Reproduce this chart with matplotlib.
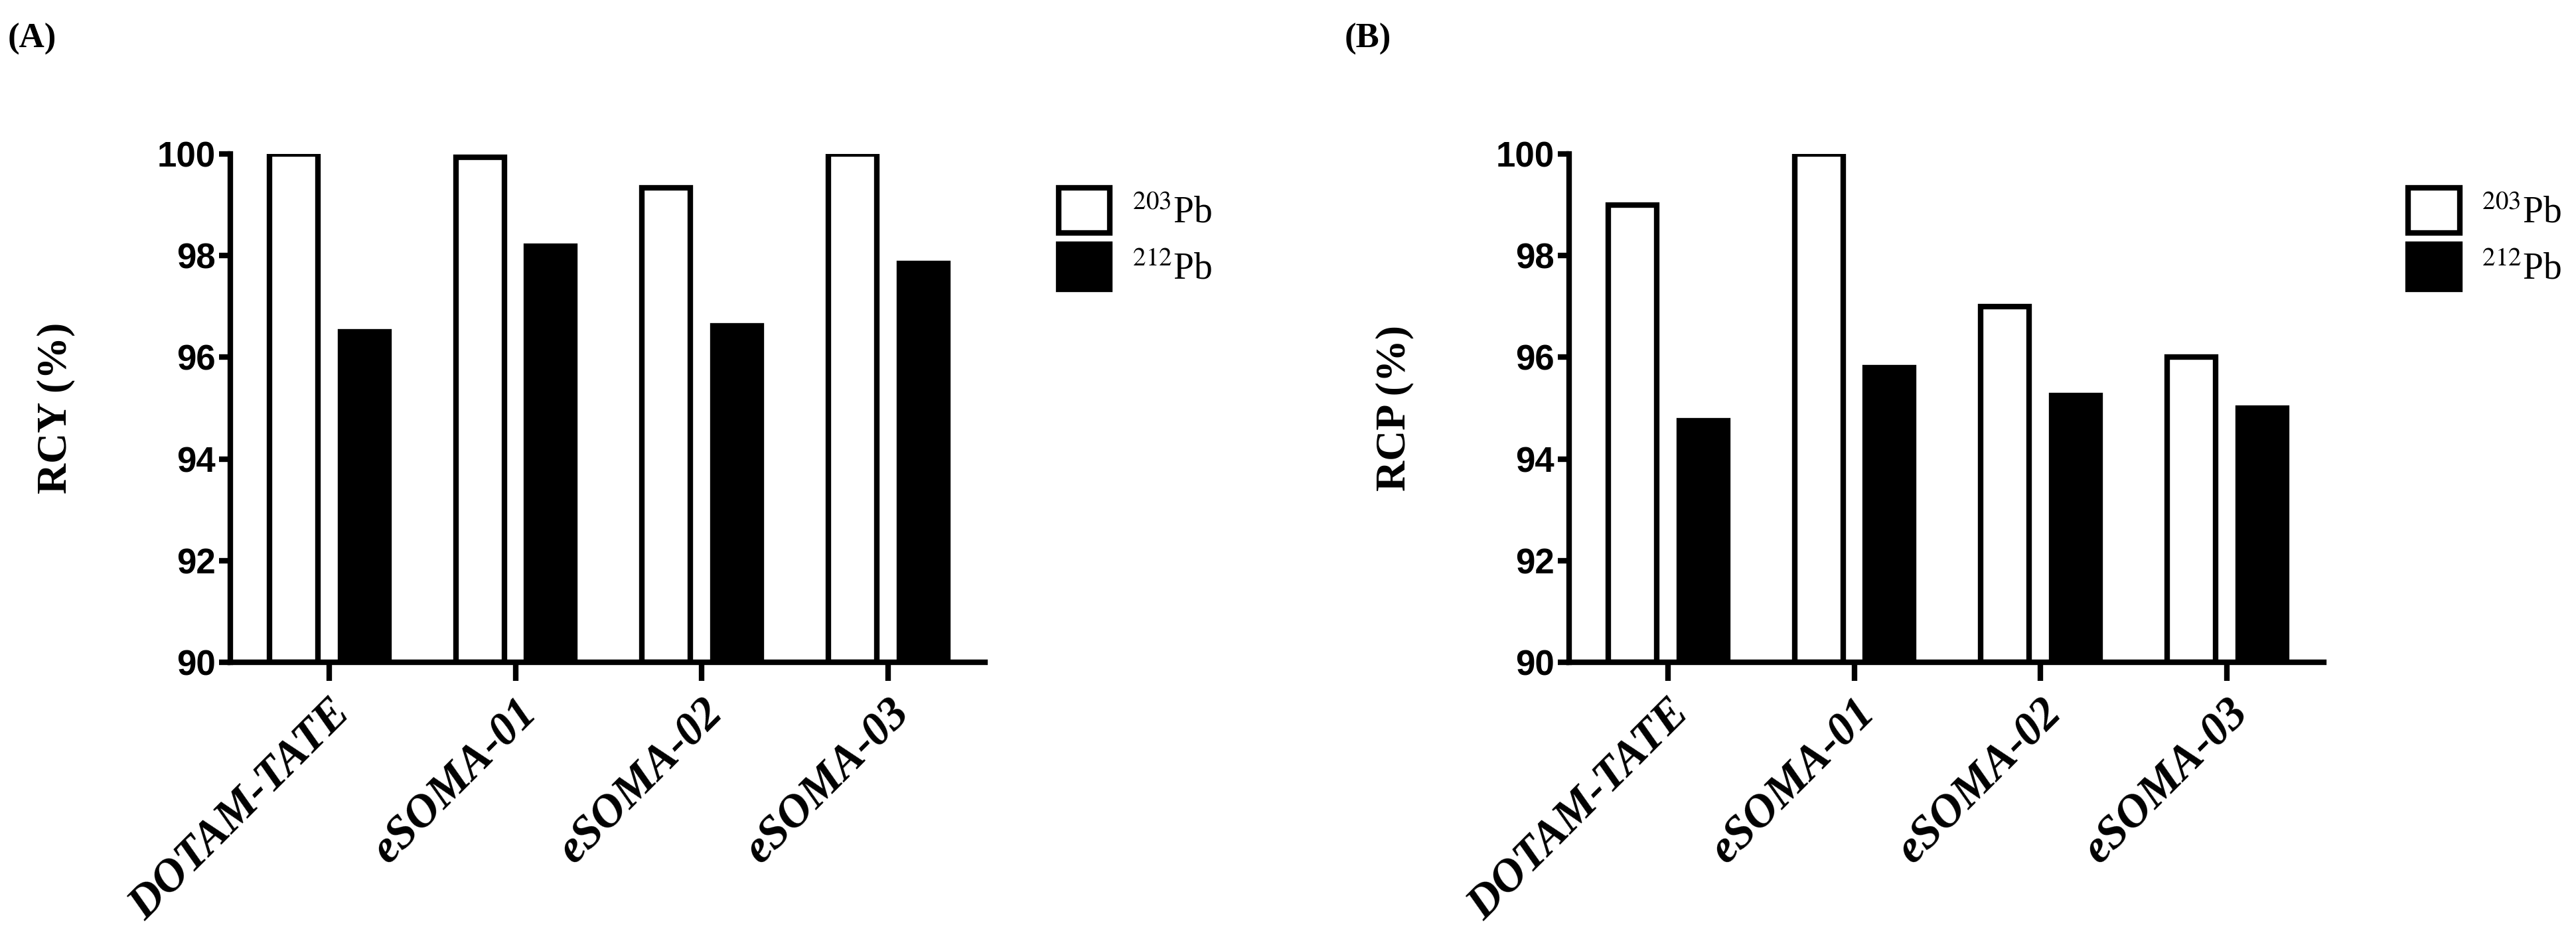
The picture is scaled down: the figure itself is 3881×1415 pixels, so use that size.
import matplotlib
matplotlib.use("Agg")
import matplotlib.pyplot as plt
import numpy as np

categories = ["DOTAM-TATE", "eSOMA-01", "eSOMA-02", "eSOMA-03"]
rcy_203 = [100.0, 99.93, 99.33, 100.0]
rcy_212 = [96.5, 98.18, 96.62, 97.85]
rcp_203 = [99.0, 100.0, 97.0, 96.0]
rcp_212 = [94.75, 95.8, 95.25, 95.0]
yticks = [90, 92, 94, 96, 98, 100]

plt.rcParams["mathtext.fontset"] = "stix"
plt.rcParams["font.serif"] = ["Liberation Serif", "DejaVu Serif"]

fig = plt.figure(figsize=(38.81, 14.15), dpi=100)
serif = ["Liberation Serif", "DejaVu Serif"]
sans = ["Liberation Sans Narrow", "Liberation Sans", "DejaVu Sans"]

def panel(left, v203, v212, ylabel, tag, tagx, legx):
    ax = fig.add_axes([left, 0.2947, 0.293, 0.5413])
    x = np.arange(len(categories))
    w = 0.26
    b1 = ax.bar(x - 0.19, np.array(v203) - 90, w, bottom=90, color="white", edgecolor="black", linewidth=6)
    b2 = ax.bar(x + 0.19, np.array(v212) - 90, w, bottom=90, color="black", edgecolor="black", linewidth=6)
    ax.set_xlim(-0.53, 3.52)
    ax.set_ylim(90, 100)
    ax.set_yticks(yticks)
    ax.set_yticklabels([str(t) for t in yticks], family=sans, fontweight="bold", fontsize=38)
    ax.set_xticks(x)
    ax.set_xticklabels(categories, rotation=45, ha="right", rotation_mode="anchor",
                       family=serif, fontweight="bold", fontstyle="italic", fontsize=50)
    for s in ("top", "right"):
        ax.spines[s].set_visible(False)
    for s in ("left", "bottom"):
        ax.spines[s].set_linewidth(6)
    ax.tick_params(axis="y", length=12, width=6, pad=4)
    ax.tick_params(axis="x", length=20, width=6, pad=12)
    ax.set_ylabel(ylabel, family=serif, fontweight="bold", fontsize=46)
    ax.yaxis.set_label_coords(-0.205, 0.5)
    fig.text(tagx, 0.975, tag, family=serif, fontweight="bold", fontsize=38, va="top")
    fig.legend(handles=[b1, b2], labels=["$^{203}$Pb", "$^{212}$Pb"],
               loc="upper left", bbox_to_anchor=(legx, 0.835), frameon=False,
               prop={"family": "serif", "size": 40}, handlelength=1.4, handleheight=1.5,
               labelspacing=0.3, handletextpad=0.6)
    return ax

panel(0.0894, rcy_203, rcy_212, "RCY (%)", "(A)", 0.003, 0.398)
panel(0.6091, rcp_203, rcp_212, "RCP (%)", "(B)", 0.522, 0.922)

fig.savefig("out.png", dpi=100)
